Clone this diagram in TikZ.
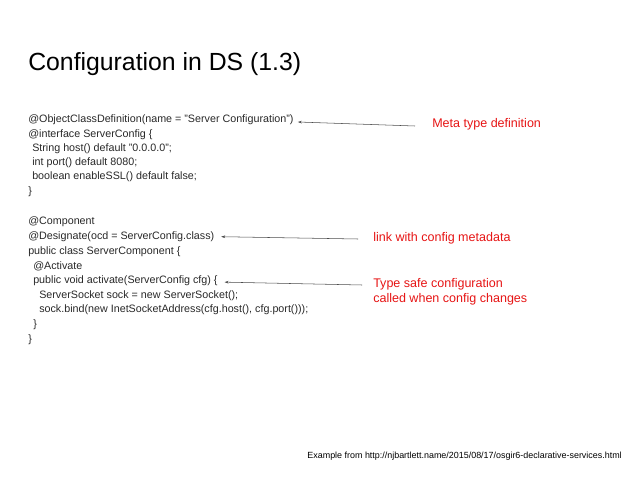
\documentclass[tikz,border=0pt]{standalone}
\usepackage{fontspec}
\setmainfont{Liberation Sans}
\usetikzlibrary{arrows.meta}
\definecolor{codegray}{RGB}{40,40,40}
\definecolor{notered}{RGB}{230,20,20}
\tikzset{
  code/.style={anchor=west, inner sep=0pt, font=\fontsize{8.05pt}{9pt}\selectfont, text=codegray},
  note/.style={anchor=west, inner sep=0pt, font=\fontsize{9.4pt}{11pt}\selectfont, text=notered, align=left},
  pointer/.style={-{Stealth[length=3pt,width=2pt]}, line width=0.4pt, gray!60!black}
}
\begin{document}
\begin{tikzpicture}[x=0.75pt,y=-0.75pt]
\useasboundingbox (0,0) rectangle (638,478);

\node [anchor=west, inner sep=0pt, font=\fontsize{18.6pt}{22pt}\selectfont, text=black] (title) at (28,64) {Configuration in DS (1.3)};

% first block
\node [code] (ocd) at (28,120) {@ObjectClassDefinition(name = "Server Configuration")};
\node [code] at (28,134.3) {@interface ServerConfig \{};
\node [code] at (32,148.6) {String host() default "0.0.0.0";};
\node [code] at (32,162.9) {int port() default 8080;};
\node [code] at (32,177.2) {boolean enableSSL() default false;};
\node [code] at (28,191.5) {\}};

% second block
\node [code] at (28,222) {@Component};
\node [code] (des) at (28,236.7) {@Designate(ocd = ServerConfig.class)};
\node [code] at (28,251.4) {public class ServerComponent \{};
\node [code] at (33,266.1) {@Activate};
\node [code] (act) at (33,280.8) {public void activate(ServerConfig cfg) \{};
\node [code] at (39,295.5) {ServerSocket sock = new ServerSocket();};
\node [code] at (39,310.2) {sock.bind(new InetSocketAddress(cfg.host(), cfg.port()));};
\node [code] at (33,324.9) {\}};
\node [code] at (28,339.6) {\}};

% notes
\node [note] (meta) at (432,124) {Meta type definition};
\node [note] (link) at (373,238) {link with config metadata};
\node [note] (safe) at (373,292) {Type safe configuration\\called when config changes};

\coordinate (m1) at (415,126);
\coordinate (l1) at (358,239);
\coordinate (s1) at (362,285);
\draw [pointer] (m1) -- ([xshift=3pt,yshift=-1.5pt]ocd.east);
\draw [pointer] (l1) -- ([xshift=5pt]des.east);
\draw [pointer] (s1) -- ([xshift=5pt,yshift=-1pt]act.east);

\node [anchor=east, inner sep=0pt, font=\fontsize{6.7pt}{7pt}\selectfont, text=black] (src) at (622,456) {Example from http://njbartlett.name/2015/08/17/osgir6-declarative-services.html};
\end{tikzpicture}
\end{document}
